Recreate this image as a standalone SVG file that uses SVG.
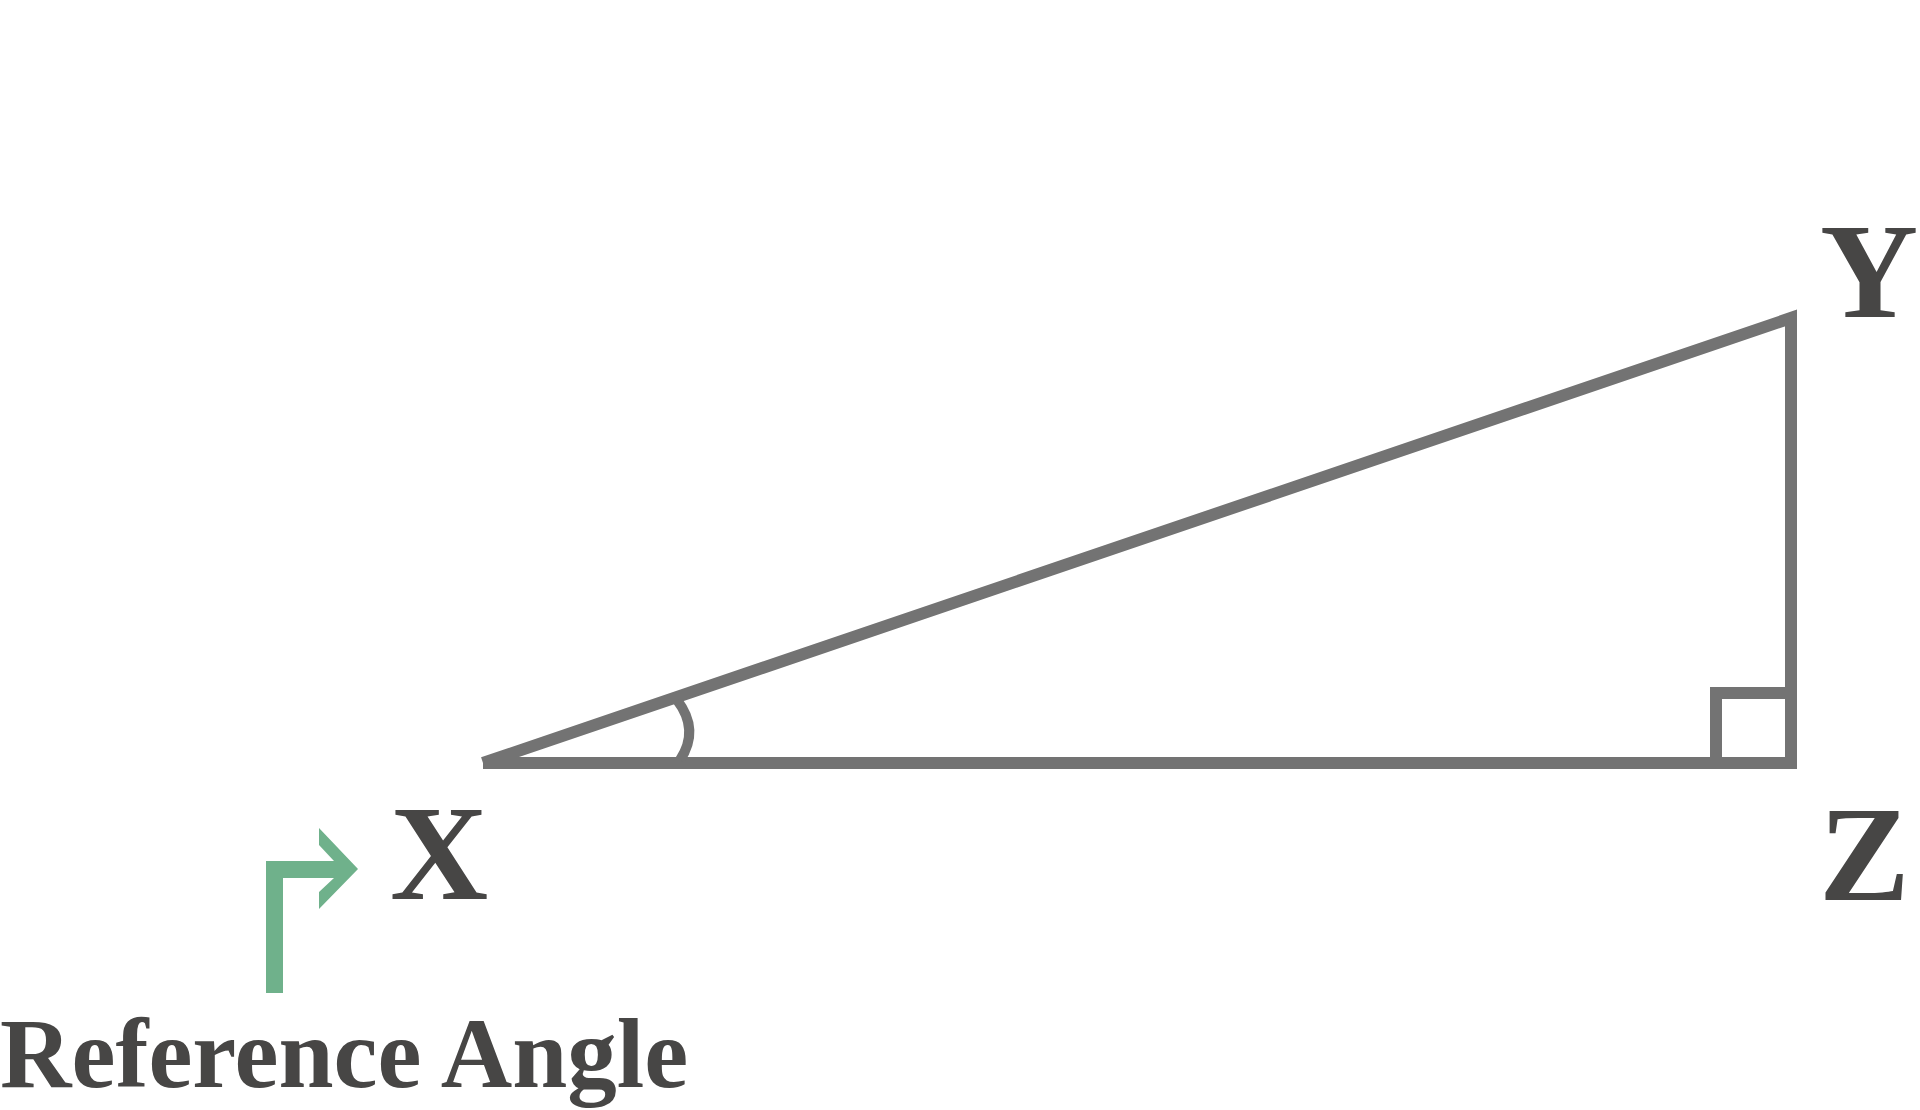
<svg xmlns="http://www.w3.org/2000/svg" width="1920" height="1110" viewBox="0 0 1920 1110">
<rect width="1920" height="1110" fill="#ffffff"/>
<g id="connectors" fill="none" stroke="#737373" stroke-linejoin="miter" stroke-linecap="butt">
<path id="triangle" stroke-width="12" d="M483,763 H1791 V318 L483,763"/>
<path id="right-angle" stroke-width="12" d="M1716,763 V693 H1791"/>
<path id="angle-arc" stroke-width="10" d="M677,700 Q700,730 680,760"/>
</g>
<g id="node-x"><text x="390" y="899" style="font-family:'Liberation Serif',serif;font-weight:700;font-size:136px;fill:#474645">X</text></g>
<g id="node-y"><text x="1820" y="317" style="font-family:'Liberation Serif',serif;font-weight:700;font-size:136px;fill:#474645">Y</text></g>
<g id="node-z"><text x="1819" y="900" style="font-family:'Liberation Serif',serif;font-weight:700;font-size:136px;fill:#474645">Z</text></g>
<g id="pointer">
<polygon fill="#6fb18b" points="266,993 266,861 334,861 319,845 319,828 358,869 319,909 319,892 334,878 283,878 283,993"/>
</g>
<g id="label-reference-angle"><text x="0" y="1087" style="font-family:'Liberation Serif',serif;font-weight:700;font-size:99px;fill:#474645">Reference Angle</text></g>
</svg>
